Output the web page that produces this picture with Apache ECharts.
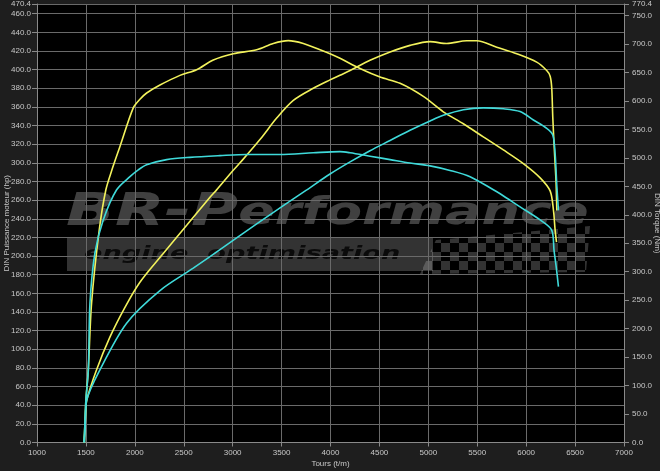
<!DOCTYPE html>
<html><head><meta charset="utf-8">
<script src="https://cdn.jsdelivr.net/npm/echarts@6/dist/echarts.min.js"></script>
<style>html,body{margin:0;padding:0;background:#1e1e1e}#c{width:660px;height:471px}</style>
</head><body><div id="c"></div>
<script>
// ---- data (rpm, values) ----
const tunedPowerRpm = [1485,1495,1508,1609,1745,1899,2052,2284,2530,2768,2836,3006,3075,3279,3450,3620,3824,3995,4097,4200,4404,4609,4813,5018,5188,5393,5495,5699,5904,6108,6210,6245,6261,6272,6288,6306,6313];
const tunedPowerHp  = [0,25,45,78,113,145,172,202,233,263,271,292,300,325,348,367,380,389,394,399,410,419,426,430,428,431,431,424,417,408,399,393,381,349,314,278,249];

const stockPowerRpm = [1485,1495,1507,1643,1916,2257,2597,2939,3279,3757,3995,4200,4404,4609,4813,5018,5153,5358,5562,5767,5938,6074,6210,6272,6296,6313,6330];
const stockPowerHp  = [0,25,45,78,128,163,187,212,237,271,288,301,313,324,335,345,351,357,359,358,355,346,337,330,310,276,249];

const tunedTorqueRpm = [1480,1490,1500,1524,1558,1636,1704,1766,1848,1984,2052,2121,2257,2461,2632,2802,3006,3245,3415,3568,3722,3893,3995,4097,4302,4506,4711,4949,5153,5358,5562,5767,5971,6143,6245,6279,6296,6310];
const tunedTorqueNm  = [0,33,75,127,245,373,444,479,520,588,603,614,628,645,655,672,683,690,701,706,701,690,683,675,657,642,631,608,581,560,537,514,490,465,442,408,373,352];

const stockTorqueRpm = [1480,1490,1500,1525,1541,1592,1677,1814,1950,2035,2121,2325,2563,2870,3143,3484,3824,4097,4200,4404,4609,4813,5018,5222,5427,5665,5734,5938,6143,6261,6285,6306,6330];
const stockTorqueNm  = [0,33,75,128,244,333,391,444,467,479,488,497,501,504,506,506,509,511,509,503,497,491,486,478,467,444,437,414,391,373,337,310,274];

const xMin = 1000, xMax = 7000, xStep = 500;
const hpMax = 470.4, hpStep = 20;
const nmMax = 770.4, nmStep = 50;

const zip = (a, b) => a.map((v, i) => [v, b[i]]);

// checkered pattern for watermark flag
const pc = document.createElement('canvas');
pc.width = 18; pc.height = 18;
const pctx = pc.getContext('2d');
pctx.fillStyle = 'rgba(255,255,255,0.2)';
pctx.fillRect(0, 0, 9, 9); pctx.fillRect(9, 9, 9, 9);

const FONT = 'Liberation Sans, Arial, sans-serif';
const labelColor = '#c8c8c8';
const axisLineColor = '#8a8a8a';
const gridColor = '#6a6a6a';

const lineSeries = (name, axis, rpm, vals, color, z) => ({
  type: 'line', name, yAxisIndex: axis, data: zip(rpm, vals), showSymbol: false,
  smooth: 0.3, lineStyle: {color, width: 1.6}, z
});

const chart = echarts.init(document.getElementById('c'), null, {renderer: 'canvas'});
chart.setOption({
  backgroundColor: '#1e1e1e',
  animation: false,
  grid: {left: 37, right: 36, top: 4, bottom: 28.5, show: true, backgroundColor: '#000', borderWidth: 0,
         containLabel: false, outerBoundsMode: 'none'},
  xAxis: {
    type: 'value', min: xMin, max: xMax, interval: xStep,
    name: 'Tours (t/m)', nameLocation: 'middle', nameGap: 17, nameMoveOverlap: false,
    nameTextStyle: {color: labelColor, fontSize: 8, fontFamily: FONT},
    axisLine: {show: true, lineStyle: {color: axisLineColor, width: 1}},
    axisTick: {show: true, length: 4, lineStyle: {color: axisLineColor}},
    axisLabel: {color: labelColor, fontSize: 8, fontFamily: FONT, margin: 6, formatter: v => String(v), showMinLabel: true, showMaxLabel: true},
    splitLine: {show: true, lineStyle: {color: gridColor, width: 1}}
  },
  yAxis: [{
    type: 'value', min: 0, max: hpMax, interval: hpStep, position: 'left',
    name: 'DIN Puissance moteur (hp)', nameLocation: 'middle', nameGap: 26, nameRotate: 90, nameMoveOverlap: false,
    nameTextStyle: {color: labelColor, fontSize: 8, fontFamily: FONT},
    axisLine: {show: true, lineStyle: {color: axisLineColor, width: 1}},
    axisTick: {show: true, length: 5, lineStyle: {color: axisLineColor}},
    axisLabel: {color: labelColor, fontSize: 8, fontFamily: FONT, margin: 6, formatter: v => v.toFixed(1), showMaxLabel: true},
    splitLine: {show: true, lineStyle: {color: gridColor, width: 1}}
  }, {
    type: 'value', min: 0, max: nmMax, interval: nmStep, position: 'right',
    name: 'DIN Torque (Nm)', nameLocation: 'middle', nameGap: 29, nameRotate: -90, nameMoveOverlap: false,
    nameTextStyle: {color: labelColor, fontSize: 8, fontFamily: FONT},
    axisLine: {show: true, lineStyle: {color: axisLineColor, width: 1}},
    axisTick: {show: true, length: 5, lineStyle: {color: axisLineColor}},
    axisLabel: {color: labelColor, fontSize: 8, fontFamily: FONT, margin: 8, formatter: v => v.toFixed(1), showMaxLabel: true},
    splitLine: {show: false}
  }],
  graphic: [{
    type: 'group', z: 1, silent: true,
    children: [
      {type: 'rect', shape: {x: 67, y: 238, width: 366, height: 33}, style: {fill: 'rgba(255,255,255,0.2)'}},
      {type: 'polygon', shape: {points: [[436,240],[590,226],[586,272],[420,274]]}, style: {fill: {image: pc, repeat: 'repeat'}}},
      {type: 'text', x: 66, y: 236, scaleX: 1.46, style: {
        text: '{a|BR-P}{b|erformance}', fill: 'rgba(255,255,255,0.25)', verticalAlign: 'bottom',
        rich: {
          a: {fontSize: 44, fontWeight: 'bold', fontStyle: 'italic', fontFamily: 'DejaVu Sans', fill: 'rgba(255,255,255,0.25)'},
          b: {fontSize: 37, fontWeight: 'bold', fontStyle: 'italic', fontFamily: 'DejaVu Sans', fill: 'rgba(255,255,255,0.25)'}
        }}},
      {type: 'text', x: 84, y: 255, scaleX: 1.6, style: {
        text: 'engine  optimisation', fill: '#0b0b0b', fontSize: 17, fontWeight: 'bold', fontStyle: 'italic',
        fontFamily: 'DejaVu Sans', verticalAlign: 'middle'}}
    ]
  }],
  series: [
    lineSeries('tuned power', 0, tunedPowerRpm, tunedPowerHp, '#f2f25c', 3),
    lineSeries('tuned torque', 1, tunedTorqueRpm, tunedTorqueNm, '#f2f25c', 3),
    lineSeries('stock power', 0, stockPowerRpm, stockPowerHp, '#3fdada', 4),
    lineSeries('stock torque', 1, stockTorqueRpm, stockTorqueNm, '#3fdada', 4)
  ]
});
</script></body></html>
